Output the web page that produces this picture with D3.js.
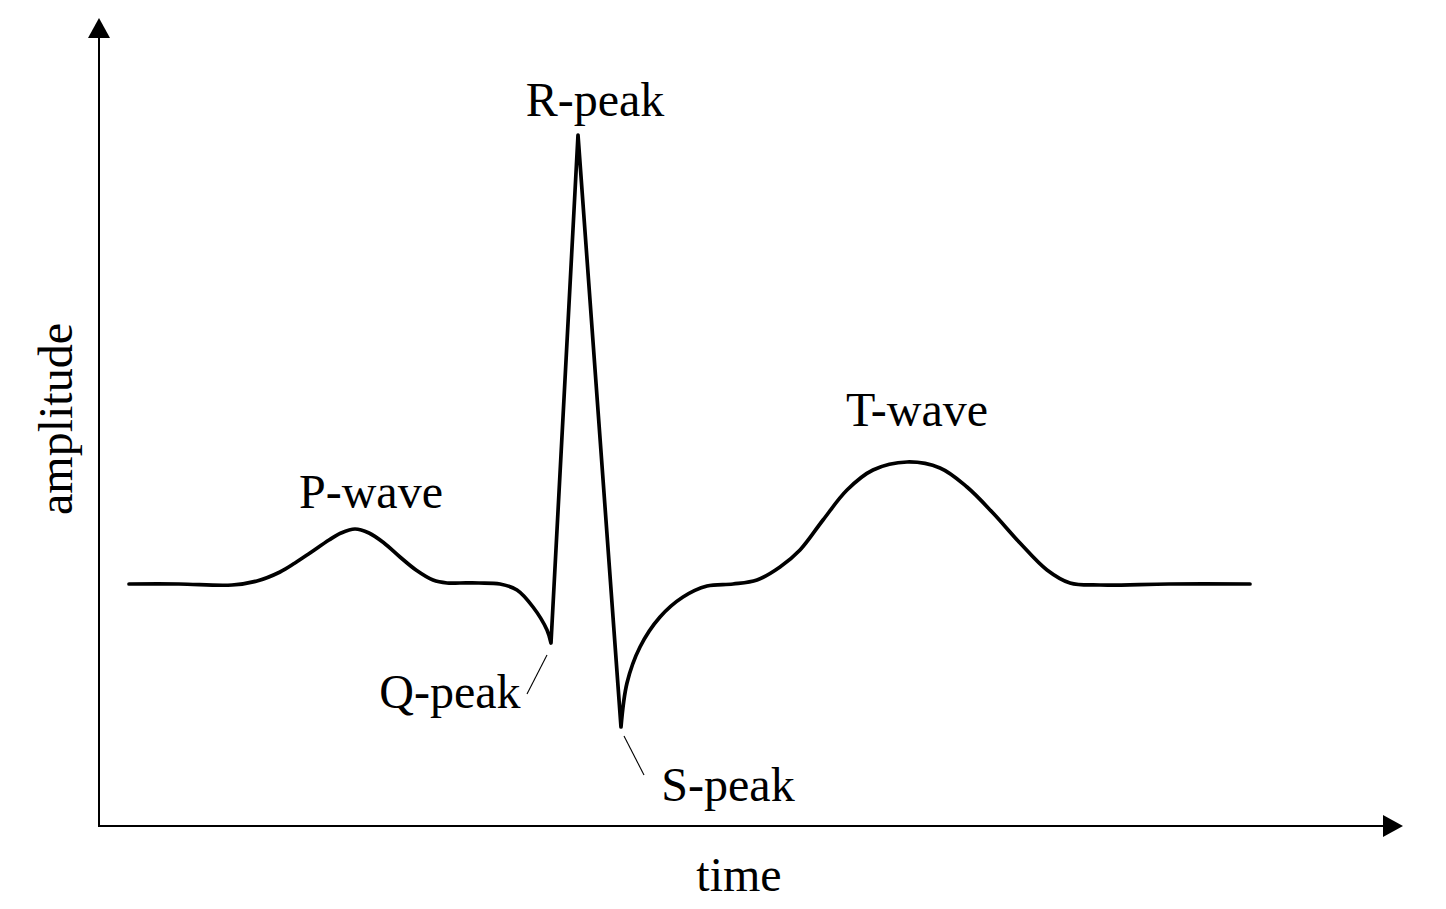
<!DOCTYPE html>
<html>
<head>
<meta charset="utf-8">
<script src="https://cdn.jsdelivr.net/npm/d3@7"></script>
<style>
  html, body { margin: 0; padding: 0; background: #fff; }
  svg { display: block; }
  text { font-family: "Liberation Serif", "Times New Roman", serif; fill: #000; }
</style>
</head>
<body>
<svg id="chart" width="1446" height="909"></svg>
<script>
// ---- data (arbitrary time / amplitude units) ----
const preTime  = [0.30, 0.80, 1.33, 1.58, 1.81, 1.96, 2.11, 2.30, 2.42, 2.56, 2.70, 2.85, 3.01, 3.17, 3.34, 3.48, 3.61, 3.80, 4.01, 4.18, 4.34, 4.48, 4.52];
const preAmp   = [2.42, 2.42, 2.41, 2.45, 2.54, 2.63, 2.73, 2.86, 2.93, 2.97, 2.93, 2.83, 2.69, 2.56, 2.46, 2.43, 2.43, 2.43, 2.42, 2.36, 2.19, 1.96, 1.83];
const qrsTime  = [4.52, 4.79, 5.22];
const qrsAmp   = [1.83, 6.91, 0.99];
const postTime = [5.22, 5.28, 5.41, 5.61, 5.84, 6.08, 6.34, 6.58, 6.81, 7.01, 7.24, 7.48, 7.74, 8.08, 8.41, 8.68, 8.94, 9.21, 9.48, 9.71, 10.01, 10.70, 11.51];
const postAmp  = [0.99, 1.43, 1.79, 2.09, 2.29, 2.40, 2.42, 2.46, 2.59, 2.76, 3.06, 3.36, 3.56, 3.64, 3.58, 3.39, 3.13, 2.83, 2.56, 2.43, 2.41, 2.42, 2.42];

const labelTexts = ["P-wave", "R-peak", "T-wave", "Q-peak", "S-peak"];
const labelTime  = [2.72, 4.96, 8.18, 3.51, 6.29];
const labelAmp   = [3.18, 7.10, 4.00, 1.18, 0.25];
// leader lines for Q and S: [t1, a1, t2, a2]
const leaders = [
  [4.48, 1.71, 4.28, 1.32],
  [5.25, 0.90, 5.45, 0.51]
];
const xTitle = "time";
const yTitle = "amplitude";

// ---- scales ----
const svg = d3.select("#chart");
const x = d3.scaleLinear().domain([0, 13]).range([99, 1399]);
const y = d3.scaleLinear().domain([0, 8]).range([826, 26]);

// arrow markers
const defs = svg.append("defs");
defs.append("marker")
  .attr("id", "arrow")
  .attr("viewBox", "0 0 20 22")
  .attr("refX", 1).attr("refY", 11)
  .attr("markerWidth", 20).attr("markerHeight", 22)
  .attr("markerUnits", "userSpaceOnUse")
  .attr("orient", "auto")
  .append("path").attr("d", "M0,0 L20,11 L0,22 Z").attr("fill", "#000");

// axes
const x0 = x(0), y0 = y(0);
svg.append("line")
  .attr("x1", x0 - 1).attr("y1", y0).attr("x2", x.range()[1] - 15).attr("y2", y0)
  .attr("stroke", "#000").attr("stroke-width", 2).attr("marker-end", "url(#arrow)");
svg.append("line")
  .attr("x1", x0).attr("y1", y0 + 1).attr("x2", x0).attr("y2", 37)
  .attr("stroke", "#000").attr("stroke-width", 2).attr("marker-end", "url(#arrow)");

// ECG curve
const toPts = (ts, as) => ts.map((t, i) => [t, as[i]]);
const smooth = d3.line().x(d => x(d[0])).y(d => y(d[1])).curve(d3.curveCatmullRom.alpha(0.5));
const straight = d3.line().x(d => x(d[0])).y(d => y(d[1]));
const pathD = smooth(toPts(preTime, preAmp)) +
  straight(toPts(qrsTime, qrsAmp)).replace(/^M/, "L") +
  smooth(toPts(postTime, postAmp)).replace(/^M/, "L");
svg.append("path")
  .attr("d", pathD)
  .attr("fill", "none")
  .attr("stroke", "#000")
  .attr("stroke-width", 3.7)
  .attr("stroke-linejoin", "round")
  .attr("stroke-linecap", "round");

// leader lines
svg.selectAll("line.leader").data(leaders).enter().append("line")
  .attr("class", "leader")
  .attr("x1", d => x(d[0])).attr("y1", d => y(d[1]))
  .attr("x2", d => x(d[2])).attr("y2", d => y(d[3]))
  .attr("stroke", "#000").attr("stroke-width", 1.1);

// labels
svg.selectAll("text.lbl").data(labelTexts).enter().append("text")
  .attr("class", "lbl")
  .attr("x", (d, i) => x(labelTime[i]))
  .attr("y", (d, i) => y(labelAmp[i]))
  .attr("text-anchor", "middle")
  .attr("font-size", 48)
  .text(d => d);

// axis titles
svg.append("text")
  .attr("x", 739).attr("y", 891)
  .attr("text-anchor", "middle").attr("font-size", 48)
  .text(xTitle);
svg.append("text")
  .attr("transform", "translate(72,419) rotate(-90)")
  .attr("text-anchor", "middle").attr("font-size", 48)
  .text(yTitle);
</script>
</body>
</html>
